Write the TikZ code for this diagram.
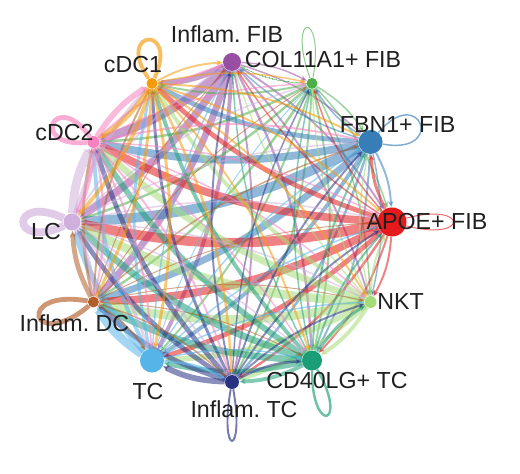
\documentclass[tikz,border=0pt]{standalone}
\usepackage{fontspec}
\setmainfont{Liberation Sans}
\usepackage{tikz}
\usetikzlibrary{arrows.meta, positioning, calc, backgrounds}
\definecolor{col0}{HTML}{984EA3}
\definecolor{col1}{HTML}{4DAF4A}
\definecolor{col2}{HTML}{377EB8}
\definecolor{col3}{HTML}{E41A1C}
\definecolor{col4}{HTML}{A6DB7A}
\definecolor{col5}{HTML}{1B9E77}
\definecolor{col6}{HTML}{2A3282}
\definecolor{col7}{HTML}{56B4E9}
\definecolor{col8}{HTML}{B35E2A}
\definecolor{col9}{HTML}{CFB0DC}
\definecolor{col10}{HTML}{F781BF}
\definecolor{col11}{HTML}{F59A0B}
\frenchspacing

\begin{document}
\begin{tikzpicture}[
    cell/.style={circle, inner sep=0pt, fill=#1},
    lbl/.style={font=\fontsize{13.2}{15}\selectfont, text=black!88, inner sep=0pt},
    edge/.style={-{Stealth[length=3.5pt, width=3pt]}, opacity=0.55},
    selfloop/.style={opacity=0.65},
  ]
    \useasboundingbox (-4.64,-5.04) rectangle (5.76,4.44);

    \foreach \i/\d in {0/0.36, 1/0.22, 2/0.48, 3/0.58, 4/0.24, 5/0.40,
                       6/0.28, 7/0.48, 8/0.22, 9/0.34, 10/0.24, 11/0.22}
      \node[cell=col\i, minimum size=\d cm] (c\i) at ({90-30*\i}:3.2) {};

    \begin{pgfonlayer}{background}
      \foreach \s/\ws in {
          0/{0,1.5,1.5,2,2,2.5,2,4,7,8,9,6},
          1/{0,0,1.5,1.5,1.5,2,2,2,2.5,2.5,2.5,2},
          2/{1.5,1.5,0,2,1.5,2,2.5,4,7,10,8,5},
          3/{1.5,1.5,3,0,2,2,2.5,5,8,10,8,5},
          4/{1.5,1.5,1.5,2,0,4,4,6,9,9,7,4},
          5/{1.5,1.5,2,2,3,0,4,5,7,7,6,4},
          6/{2,1.5,2,2,2,2.5,0,6,5,5,5,3},
          7/{1.5,1,1.5,1.5,1.5,1.5,3,0,9,6,4,3},
          8/{1,1,1.5,1,1,1,1.5,2,0,5,3,2},
          9/{2,1.5,1.5,1.5,1.5,1.5,2,3,4,0,9,4},
          10/{2,1.5,2,1.5,1.5,1.5,2,2,2,4,0,6},
          11/{2,1.5,2,2,2,2,2.5,3,3,4,5,0}}{
        \foreach \w [count=\t from 0] in \ws {
          \ifnum\t=\s\else
            \draw[edge, draw=col\s, line width={0.55pt*\w}] (c\s) to[bend left=12] (c\t);
          \fi
        }
      }

      \foreach \s/\a/\sp/\md/\w in {1/95/15/1.4/1, 2/20/30/1.3/1.5, 3/0/15/1.3/1,
                                   5/-75/15/1.3/2.5, 6/-90/10/1.4/2, 8/-165/25/1.5/5,
                                   9/180/25/1.2/8, 10/155/30/1.2/5, 11/95/30/1.2/4}
        \draw[selfloop, draw=col\s, line width={0.55pt*\w}]
          (c\s) to[out=\a+\sp, in=\a-\sp, min distance=\md cm] (c\s);
    \end{pgfonlayer}

    \node[lbl] (l0) at ([shift={(-0.10,0.56)}]c0) {Inflam. FIB};
    \node[lbl] (l1) at ([shift={(0.22,0.48)}]c1) {COL11A1+ FIB};
    \node[lbl] (l2) at ([shift={(0.54,0.34)}]c2) {FBN1+ FIB};
    \node[lbl] (l3) at ([shift={(0.70,0)}]c3) {APOE+ FIB};
    \node[lbl] (l4) at ([shift={(0.60,0)}]c4) {NKT};
    \node[lbl] (l5) at ([shift={(0.50,-0.40)}]c5) {CD40LG+ TC};
    \node[lbl] (l6) at ([shift={(0.24,-0.54)}]c6) {Inflam. TC};
    \node[lbl] (l7) at ([shift={(-0.08,-0.62)}]c7) {TC};
    \node[lbl] (l8) at ([shift={(-0.38,-0.42)}]c8) {Inflam. DC};
    \node[lbl] (l9) at ([shift={(-0.52,-0.20)}]c9) {LC};
    \node[lbl] (l10) at ([shift={(-0.58,0.18)}]c10) {cDC2};
    \node[lbl] (l11) at ([shift={(-0.38,0.38)}]c11) {cDC1};
  \end{tikzpicture}
\end{document}
